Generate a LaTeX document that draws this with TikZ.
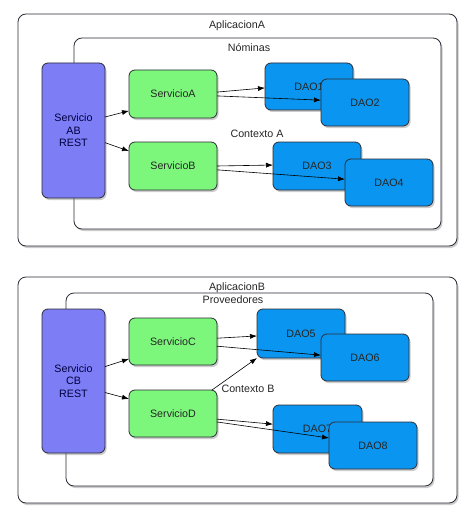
\documentclass[tikz,border=0pt]{standalone}
\usepackage{fontspec}
\setmainfont{Liberation Sans}
\usetikzlibrary{shadows,calc,arrows.meta}
\definecolor{restc}{RGB}{125,125,245}
\definecolor{servc}{RGB}{124,247,124}
\definecolor{daoc}{RGB}{10,150,240}
\definecolor{edgec}{RGB}{45,45,55}
\begin{document}
\begin{tikzpicture}[x=1pt,y=-1pt,
  base/.style={draw=edgec,line width=0.8pt,inner sep=0pt,outer sep=0pt,
    font=\fontsize{10.7}{12.5}\selectfont,text=black!85,
    drop shadow={opacity=0.4,shadow xshift=1.5pt,shadow yshift=-2pt}},
  frame/.style={base,fill=white,rounded corners=8pt},
  restbox/.style={base,fill=restc,rounded corners=6pt,align=center,text=blue!25!black},
  servbox/.style={base,fill=servc,rounded corners=6pt},
  daobox/.style={base,fill=daoc,rounded corners=6pt},
  lbl/.style={font=\fontsize{10.7}{12.5}\selectfont,text=black!85,inner sep=0pt},
  arr/.style={draw=black,line width=0.6pt,-{Latex[length=7pt,width=5pt]}}]
\useasboundingbox (0,0) rectangle (474,524);
% ---------- Aplicacion A ----------
\node[frame,minimum width=439,minimum height=232] (appA) at (237.5,130) {};
\node[lbl] (appAl) at (237,26) {AplicacionA};
\node[frame,minimum width=367,minimum height=191] (ctxA) at (257.5,133.5) {};
\node[lbl] (nom) at (249,48) {Nóminas};
\node[lbl] (ctxAl) at (257,134) {Contexto A};
\node[restbox,minimum width=63,minimum height=135] (rab) at (73.5,130.5) {Servicio\\AB\\REST};
\node[servbox,minimum width=88,minimum height=48] (sa) at (173,94) {ServicioA};
\node[servbox,minimum width=88,minimum height=48] (sb) at (173,166) {ServicioB};
\node[daobox,minimum width=88,minimum height=47] (d1) at (309,86.5) {DAO1};
\node[daobox,minimum width=88,minimum height=47] (d2) at (365,102.5) {DAO2};
\node[daobox,minimum width=88,minimum height=48] (d3) at (317,166) {DAO3};
\node[daobox,minimum width=88,minimum height=47] (d4) at (389,182.5) {DAO4};
\draw[arr] ($(rab.north east)!0.40!(rab.south east)$) -- ($(sa.north west)!0.85!(sa.south west)$);
\draw[arr] ($(rab.north east)!0.59!(rab.south east)$) -- ($(sb.north west)!0.19!(sb.south west)$);
\draw[arr] ($(sa.north east)!0.46!(sa.south east)$) -- ($(d1.north west)!0.53!(d1.south west)$);
\draw[arr] ($(sa.north east)!0.54!(sa.south east)$) -- ($(d2.north west)!0.45!(d2.south west)$);
\draw[arr] ($(sb.north east)!0.50!(sb.south east)$) -- ($(d3.north west)!0.48!(d3.south west)$);
\draw[arr] ($(sb.north east)!0.58!(sb.south east)$) -- ($(d4.north west)!0.43!(d4.south west)$);
% ---------- Aplicacion B ----------
\node[frame,minimum width=439,minimum height=226] (appB) at (237.5,390) {};
\node[frame,minimum width=367,minimum height=193] (ctxB) at (249.5,389.5) {};
\node[lbl] (appBl) at (237,288) {AplicacionB};
\node[lbl] (prov) at (233,300) {Proveedores};
\node[lbl] (ctxBl) at (248,389) {Contexto B};
\node[restbox,minimum width=63,minimum height=144] (rcb) at (73.5,381) {Servicio\\CB\\REST};
\node[servbox,minimum width=88,minimum height=47] (sc) at (173,341.5) {ServicioC};
\node[servbox,minimum width=88,minimum height=47] (sd) at (173,413.5) {ServicioD};
\node[daobox,minimum width=88,minimum height=49] (d5) at (301,333.5) {DAO5};
\node[daobox,minimum width=88,minimum height=47] (d6) at (365,357.5) {DAO6};
\node[daobox,minimum width=89,minimum height=48] (d7) at (317.5,429) {DAO7};
\node[daobox,minimum width=88,minimum height=47] (d8) at (373,445.5) {DAO8};
\draw[arr] ($(rcb.north east)!0.40!(rcb.south east)$) -- ($(sc.north west)!0.87!(sc.south west)$);
\draw[arr] ($(rcb.north east)!0.58!(rcb.south east)$) -- ($(sd.north west)!0.19!(sd.south west)$);
\draw[arr] ($(sc.north east)!0.43!(sc.south east)$) -- ($(d5.north west)!0.55!(d5.south west)$);
\draw[arr] ($(sc.north east)!0.60!(sc.south east)$) -- ($(d6.north west)!0.45!(d6.south west)$);
\draw[arr] ($(sd.north east)+(-5,0)$) -- (d5.south west);
\draw[arr] ($(sd.north east)!0.62!(sd.south east)$) -- ($(d7.north west)!0.40!(d7.south west)$);
\draw[arr] ($(sd.north east)!0.68!(sd.south east)$) -- ($(d8.north west)!0.34!(d8.south west)$);
\end{tikzpicture}
\end{document}
